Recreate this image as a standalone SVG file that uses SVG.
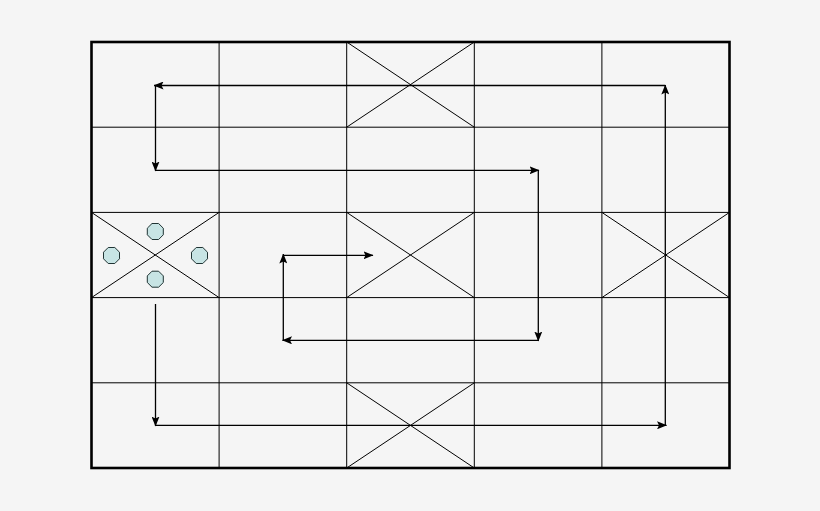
<svg xmlns="http://www.w3.org/2000/svg" width="820" height="511" viewBox="0 0 820 511">
<style>
.g{stroke:#000;stroke-width:1;fill:none}
.x{stroke:#000;stroke-width:1;fill:none}
.a{stroke:#000;stroke-width:1.3;fill:none;marker-end:url(#ah)}
.o{fill:#c7e4e4;stroke:#1f3333;stroke-width:1}
</style>
<defs>
<marker id="ah" viewBox="0 0 10 8" refX="9.5" refY="4" markerWidth="10" markerHeight="8" markerUnits="userSpaceOnUse" orient="auto">
<path d="M0,0 L10,4 L0,8 L2,4 Z" fill="#000"/>
</marker>
<polygon id="oct" points="3.3,-8 8,-3.3 8,3.3 3.3,8 -3.3,8 -8,3.3 -8,-3.3 -3.3,-8"/>
</defs>
<rect width="820" height="511" fill="#f5f5f5"/>
<g id="grid">
<path class="g" d="M219.1,42V468M346.7,42V468M474.3,42V468M601.9,42V468M91.5,127.2H729.5M91.5,212.4H729.5M91.5,297.6H729.5M91.5,382.8H729.5"/>
</g>
<g id="crosses">
<path class="x" d="M346.7,42L474.3,127.2M474.3,42L346.7,127.2"/>
<path class="x" d="M91.5,212.4L219.1,297.6M219.1,212.4L91.5,297.6"/>
<path class="x" d="M346.7,212.4L474.3,297.6M474.3,212.4L346.7,297.6"/>
<path class="x" d="M601.9,212.4L729.5,297.6M729.5,212.4L601.9,297.6"/>
<path class="x" d="M346.7,382.8L474.3,468M474.3,382.8L346.7,468"/>
</g>
<g id="markers">
<use href="#oct" class="o" x="155.3" y="231.5"/>
<use href="#oct" class="o" x="111.5" y="255.5"/>
<use href="#oct" class="o" x="199.5" y="255.5"/>
<use href="#oct" class="o" x="155.3" y="279.2"/>
</g>
<g id="connectors">
<path class="a" d="M155.5,304V426"/>
<path class="a" d="M155.5,425.3H666.5"/>
<path class="a" d="M665.3,425.3V85"/>
<path class="a" d="M665.3,85.5H154"/>
<path class="a" d="M155.5,85.5V171"/>
<path class="a" d="M155.5,170.3H539"/>
<path class="a" d="M538.3,170.3V341"/>
<path class="a" d="M538.3,340.3H282.5"/>
<path class="a" d="M283.3,340.3V254"/>
<path class="a" d="M283.3,255.3H373"/>
</g>
<rect id="frame" x="91.5" y="42" width="638" height="426" fill="none" stroke="#000" stroke-width="2.6"/>
</svg>
